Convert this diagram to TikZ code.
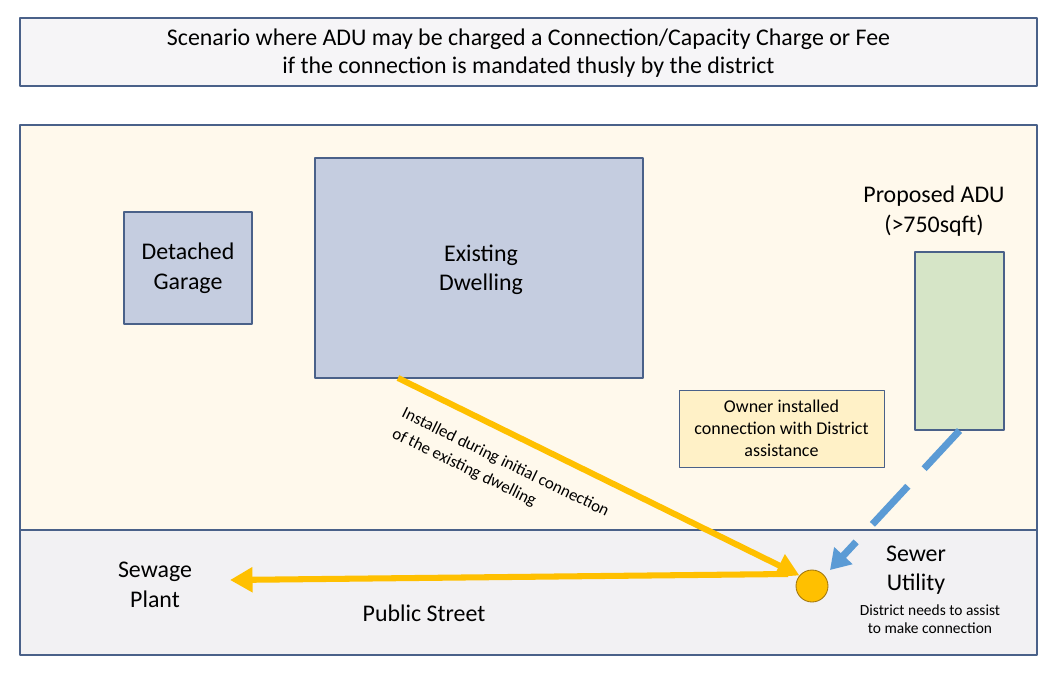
\documentclass[tikz,border=0pt]{standalone}
\usepackage{fontspec}
\setmainfont{Carlito}
\usetikzlibrary{arrows.meta}
\definecolor{edge}{HTML}{4A6189}
\definecolor{yard}{HTML}{FFF9EC}
\definecolor{street}{HTML}{F2F1F3}
\definecolor{bldg}{HTML}{C5CDE0}
\definecolor{adu}{HTML}{D6E5C7}
\definecolor{note}{HTML}{FFF1C7}
\definecolor{pipe}{HTML}{FFC000}
\definecolor{newpipe}{HTML}{5B9BD5}
\tikzset{
  zone/.style={draw=edge,line width=0.8pt},
  house/.style={draw=edge,fill=bldg,line width=0.8pt,inner sep=0pt},
  lbl/.style={align=center,font=\fontsize{17}{21}\selectfont},
  small/.style={align=center,font=\fontsize{11}{13}\selectfont},
}
\begin{document}
\begin{tikzpicture}[x=0.025cm,y=-0.025cm,line join=round]
	\useasboundingbox (0,0) rectangle (1060,686);
	% title
	\filldraw[zone,fill=street!70!white] (20,18) rectangle (1037,86);
	\node[align=center,font=\fontsize{17}{20}\selectfont] (title) at (528.5,53) {Scenario where ADU may be charged a Connection/Capacity Charge or Fee\\if the connection is mandated thusly by the district};
	% lot and street
	\filldraw[zone,fill=yard] (20,125) rectangle (1037,530);
	\filldraw[zone,fill=street] (20,530) rectangle (1037,655);
	% buildings
	\node[house,minimum width=128*0.025cm,minimum height=112*0.025cm] (garage) at (188,268) {};
	\node[lbl] at (garage) {Detached\\Garage};
	\node[house,minimum width=328*0.025cm,minimum height=220*0.025cm] (dwell) at (479,268) {};
	\node[lbl] at (481,270) {Existing\\Dwelling};
	\node[house,fill=adu,minimum width=89*0.025cm,minimum height=178*0.025cm] (adu) at (959.5,341) {};
	\node[lbl] (adulbl) at (934,211) {Proposed ADU\\(>750sqft)};
	\node[draw=edge,fill=note,line width=0.6pt,minimum width=205*0.025cm,minimum height=77*0.025cm,align=center,font=\fontsize{12.8}{15.6}\selectfont] (owner) at (781.5,428.5) {Owner installed\\connection with District\\assistance};
	% sewer tap
	\node[circle,draw=black!40!pipe!80!brown,fill=pipe,line width=0.6pt,minimum size=32*0.025cm,inner sep=0pt] (sewer) at (812,586) {};
	\coordinate (dw) at (398,378);
	\coordinate (plant) at (230,580);
	\coordinate (tap) at (830,570);
	% pipes
	\draw[pipe,line width=4.3pt,-{Triangle[length=16pt,width=17pt]}] (dw) -- (sewer.140);
	\draw[pipe,line width=4.3pt,-{Triangle[length=16pt,width=17pt]}] (788,574) -- (plant);
	\draw[newpipe,line width=5pt,dash pattern=on 37pt off 17pt,-{Triangle[length=14pt,width=17pt]}] (adu.south) -- (tap);
	% labels
	\node[align=left,font=\fontsize{12}{16}\selectfont,inner sep=0pt,anchor=north west,rotate=-26] (inst) at (406,406) {Installed during initial connection\\of the existing dwelling};
	\node[lbl] (plantlbl) at (155,585) {Sewage\\Plant};
	\node[lbl] (sewerlbl) at (916,570) {Sewer\\Utility};
	\node[small] at (930,619) {District needs to assist\\to make connection};
	\node[lbl] (streetlbl) at (424,613) {Public Street};
\end{tikzpicture}
\end{document}
